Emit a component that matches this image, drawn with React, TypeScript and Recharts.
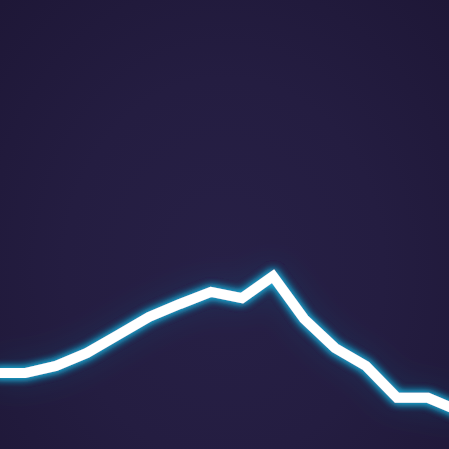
import React from "react";
import { LineChart, Line, XAxis, YAxis } from "recharts";

const categories = ["p0","p1","p2","p3","p4","p5","p6","p7","p8","p9","p10","p11","p12","p13","p14","p15"];
const values = [16.9, 16.9, 18.5, 21.4, 25.4, 29.4, 32.3, 35.0, 33.6, 38.5, 29.0, 22.5, 18.5, 11.4, 11.4, 8.5];

const data = categories.map((c, i) => ({ name: c, value: values[i] }));

export default function App() {
  return (
    <div
      style={{
        position: "fixed",
        left: 0,
        top: 0,
        width: 449,
        height: 449,
        overflow: "hidden",
        background: "radial-gradient(ellipse at 50% 60%, #272046 0%, #241d41 50%, #1e1737 100%)",
      }}
    >
      <svg width="0" height="0" style={{ position: "absolute" }}>
        <defs>
          <filter id="glow" x="-20%" y="-60%" width="140%" height="220%">
            <feFlood floodColor="#1fb4de" result="c" />
            <feComposite in="c" in2="SourceAlpha" operator="in" result="col" />
            <feGaussianBlur in="col" stdDeviation="4.5" result="b1" />
            <feFlood floodColor="#1a7fa8" floodOpacity="0.4" result="c2" />
            <feComposite in="c2" in2="SourceAlpha" operator="in" result="col2" />
            <feGaussianBlur in="col2" stdDeviation="16" result="b2" />
            <feMerge>
              <feMergeNode in="b2" />
              <feMergeNode in="b1" />
              <feMergeNode in="b1" />
              <feMergeNode in="SourceGraphic" />
            </feMerge>
          </filter>
        </defs>
      </svg>
      <div style={{ position: "absolute", left: -6, top: 0 }}>
        <LineChart width={465} height={449} data={data} margin={{ top: 0, right: 0, bottom: 0, left: 0 }}>
          <XAxis dataKey="name" hide />
          <YAxis hide domain={[0, 100]} />
          <Line
            type="linear"
            dataKey="value"
            stroke="#ffffff"
            strokeWidth={10}
            dot={false}
            activeDot={false}
            isAnimationActive={false}
            style={{ filter: "url(#glow)" }}
          />
        </LineChart>
      </div>
    </div>
  );
}
